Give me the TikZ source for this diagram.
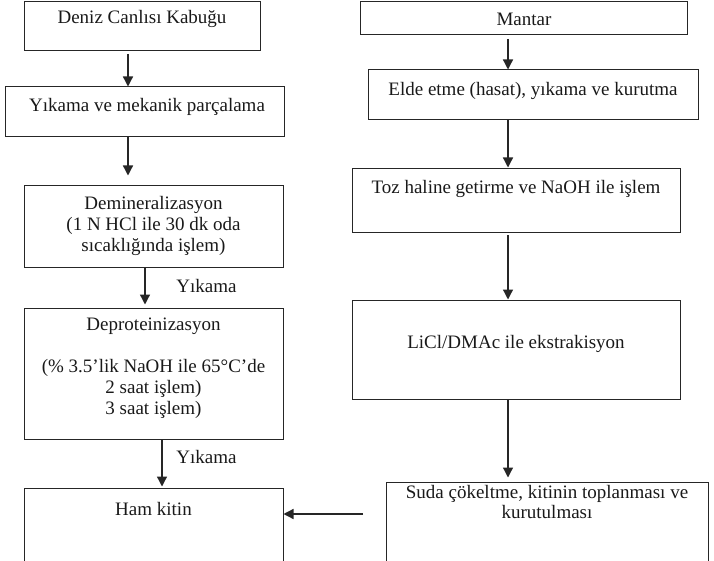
\documentclass[tikz,border=0pt]{standalone}
\usepackage{fontspec}
\setmainfont{Liberation Serif}
\usetikzlibrary{arrows.meta,calc}
\tikzset{
  boxst/.style={draw=black!85, line width=1pt, rectangle, inner sep=0pt},
  txt/.style={inner sep=0pt, align=center, text=black!90, font=\fontsize{19}{21}\selectfont},
  arr/.style={draw=black!85, line width=1.3pt, -{Triangle[length=10pt,width=10pt]}}
}
\begin{document}
\begin{tikzpicture}[x=1pt,y=-1pt]
\useasboundingbox (0,0) rectangle (714,561);
% left column boxes
\node[boxst, minimum width=236pt, minimum height=49pt] (b1) at (142,26) {};
\node[boxst, minimum width=279pt, minimum height=50pt] (b2) at (144.5,112) {};
\node[boxst, minimum width=259pt, minimum height=81pt] (b3) at (153.5,226.5) {};
\node[boxst, minimum width=259pt, minimum height=131pt] (b4) at (153.5,373.5) {};
\node[boxst, minimum width=259pt, minimum height=90pt] (b5) at (153.5,533) {};
% right column boxes
\node[boxst, minimum width=327pt, minimum height=33pt] (m1) at (523.5,18) {};
\node[boxst, minimum width=330pt, minimum height=50pt] (m2) at (533,95) {};
\node[boxst, minimum width=328pt, minimum height=64pt] (m3) at (516,201) {};
\node[boxst, minimum width=328pt, minimum height=99pt] (m4) at (516,349.5) {};
\node[boxst, minimum width=322pt, minimum height=90pt] (m5) at (547,527) {};
% texts
\node[txt] (t1) at (142,19) {Deniz Canlısı Kabuğu};
\node[txt] (t2) at (147,107) {Yıkama ve mekanik parçalama};
\node[txt] (t3) at (153.5,226) {Demineralizasyon\\(1 N HCl ile 30 dk oda\\sıcaklığında işlem)};
\node[txt] (t4) at (153.5,368) {Deproteinizasyon\\[21pt](\% 3.5’lik NaOH ile 65°C’de\\2 saat işlem)\\3 saat işlem)};
\node[txt] (t5) at (153.5,509) {Ham kitin};
\node[txt] (r1) at (524,19) {Mantar};
\node[txt] (r2) at (533,91) {Elde etme (hasat), yıkama ve kurutma};
\node[txt] (r3) at (516,189) {Toz haline getirme ve NaOH ile işlem};
\node[txt] (r4) at (516,344) {LiCl/DMAc ile ekstrakisyon};
\node[txt, font=\fontsize{19}{19.5}\selectfont] (r5) at (547,502) {Suda çökeltme, kitinin toplanması ve\\kurutulması};
\node[txt] (y1) at (206.5,286) {Yıkama};
\node[txt] (y2) at (206.5,457) {Yıkama};
% column x coordinates
\coordinate (xa) at (128,0);
\coordinate (xb) at (145,0);
\coordinate (xc) at (162,0);
\coordinate (xr) at (508,0);
\coordinate (hs) at (363,514);
% arrows
\draw[arr, shorten <=3pt] (b1.south -| xa) -- (b2.north -| xa);
\draw[arr, shorten >=10pt] (b2.south -| xa) -- (b3.north -| xa);
\draw[arr, shorten >=3pt] (b3.south -| xb) -- (b4.north -| xb);
\draw[arr, shorten >=1pt] (b4.south -| xc) -- (b5.north -| xc);
\draw[arr, shorten <=4pt] (m1.south -| xr) -- (m2.north -| xr);
\draw[arr, shorten >=1pt] (m2.south -| xr) -- (m3.north -| xr);
\draw[arr, shorten <=2pt] (m3.south -| xr) -- (m4.north -| xr);
\draw[arr, shorten >=4pt] (m4.south -| xr) -- (m5.north -| xr);
\draw[arr] (hs) -- (hs -| b5.east);
\end{tikzpicture}
\end{document}
